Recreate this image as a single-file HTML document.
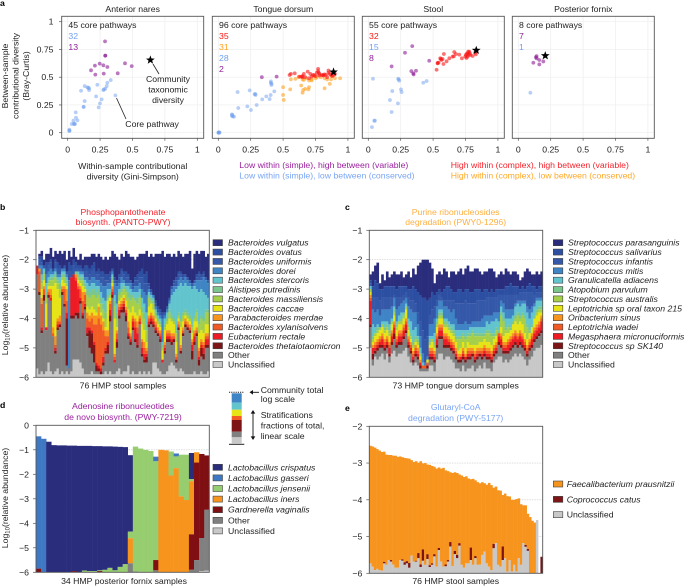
<!DOCTYPE html>
<html lang="en">
<head>
<meta charset="utf-8">
<title>Contributional diversity of core pathways</title>
<style>
html,body{margin:0;padding:0;background:#fff;}
svg{display:block;font-family:"Liberation Sans",Arial,sans-serif;font-size:8.7px;fill:#222;}
.it{font-style:italic;}
.ttl{text-anchor:middle;}
.pl{font-weight:bold;font-size:8.7px;fill:#000;}
</style>
</head>
<body>
<svg id="fig" xmlns="http://www.w3.org/2000/svg" width="685" height="586" viewBox="0 0 685 586">
  <text class="pl" x="0" y="6">a</text>
  <text class="pl" x="0" y="210">b</text>
  <text class="pl" x="345" y="210">c</text>
  <text class="pl" x="0" y="408">d</text>
  <text class="pl" x="345" y="411">e</text>

  <text class="ttl" x="132.7" y="12">Anterior nares</text>
  <text class="ttl" x="283.3" y="12">Tongue dorsum</text>
  <text class="ttl" x="433.3" y="12">Stool</text>
  <text class="ttl" x="583.3" y="12">Posterior fornix</text>

  <g id="scatter-layer"></g>

  <g text-anchor="middle">
    <text transform="translate(8,76) rotate(-90)">Between-sample</text>
    <text transform="translate(18.5,76) rotate(-90)">contributional diversity</text>
    <text transform="translate(29,76) rotate(-90)">(Bray-Curtis)</text>
  </g>
  <text class="ttl" x="132.7" y="169">Within-sample contributional</text>
  <text class="ttl" x="132.7" y="179.5">diversity (Gini-Simpson)</text>

  <g class="ttl">
    <text x="168" y="82">Community</text>
    <text x="168" y="92.5">taxonomic</text>
    <text x="168" y="103">diversity</text>
  </g>
  <line x1="153" y1="64" x2="159" y2="74" stroke="#222" stroke-width="0.8"/>
  <text x="125.3" y="127">Core pathway</text>
  <line x1="116.5" y1="98" x2="126" y2="119" stroke="#222" stroke-width="0.8"/>

  <g>
    <text x="239.3" y="168" fill="#9a1f9e" style="fill:#9a1f9e">Low within (simple), high between (variable)</text>
    <text x="239.3" y="178.5" style="fill:#7aa5f5">Low within (simple), low between (conserved)</text>
    <text x="450.7" y="168" style="fill:#f5222a">High within (complex), high between (variable)</text>
    <text x="450.7" y="178.5" style="fill:#ffa826">High within (complex), low between (conserved)</text>
  </g>

  <g id="stack-layer"></g>

  <text class="ttl" x="123" y="215" style="fill:#f5222a">Phosphopantothenate</text>
  <text class="ttl" x="123" y="225" style="fill:#f5222a">biosynth. (PANTO-PWY)</text>
  <text class="ttl" x="455.7" y="215" style="fill:#ffb040">Purine ribonucleosides</text>
  <text class="ttl" x="455.7" y="225" style="fill:#ffb040">degradation (PWY0-1296)</text>
  <text class="ttl" x="123" y="409" style="fill:#9a1f9e">Adenosine ribonucleotides</text>
  <text class="ttl" x="123" y="420" style="fill:#9a1f9e">de novo biosynth. (PWY-7219)</text>
  <text class="ttl" x="455.7" y="410" style="fill:#7aa5f5">Glutaryl-CoA</text>
  <text class="ttl" x="455.7" y="421" style="fill:#7aa5f5">degradation (PWY-5177)</text>

  <text class="ttl" x="123" y="388.5">76 HMP stool samples</text>
  <text class="ttl" x="455.7" y="388.5">73 HMP tongue dorsum samples</text>
  <text class="ttl" x="124" y="584">34 HMP posterior fornix samples</text>
  <text class="ttl" x="455.7" y="584">76 HMP stool samples</text>

  <text transform="translate(8,305) rotate(-90)" text-anchor="middle">Log<tspan font-size="6" dy="1.5">10</tspan><tspan dy="-1.5">(relative abundance)</tspan></text>
  <text transform="translate(8,498) rotate(-90)" text-anchor="middle">Log<tspan font-size="6" dy="1.5">10</tspan><tspan dy="-1.5">(relative abundance)</tspan></text>

  <g>
    <rect x="231.7" y="393.3" width="10" height="9.4" fill="#3f84c5"/>
    <rect x="231.7" y="402.7" width="10" height="7" fill="#62c4cc"/>
    <rect x="231.7" y="409.7" width="10" height="6.3" fill="#e6e316"/>
    <rect x="231.7" y="416" width="10" height="4" fill="#f15a24"/>
    <rect x="231.7" y="420" width="10" height="11.7" fill="#7d1416"/>
    <rect x="231.7" y="431.7" width="10" height="5.6" fill="#808080"/>
    <rect x="231.7" y="437.3" width="10" height="6" fill="#c8c8c8"/>
    <line x1="229" y1="392.3" x2="244.3" y2="392.3" stroke="#222" stroke-width="1" stroke-dasharray="1.2 1"/>
    <line x1="229" y1="444.3" x2="244.3" y2="444.3" stroke="#222" stroke-width="1"/>
    <path d="M259 392.3H252" stroke="#111" stroke-width="0.9" fill="none"/>
    <path d="M249.5 392.3l3.5-2.3v4.6z" fill="#111"/>
    <path d="M253 412V438" stroke="#111" stroke-width="0.9" fill="none"/>
    <path d="M253 410l-2.3 3.6h4.6zM253 440l-2.3-3.6h4.6z" fill="#111"/>
    <text x="260.7" y="393">Community total</text>
    <text x="260.7" y="402">log scale</text>
    <text x="260.7" y="418">Stratifications</text>
    <text x="260.7" y="428.5">fractions of total,</text>
    <text x="260.7" y="439">linear scale</text>
  </g>
</svg>

<script>
/* ---------- Panel a: scatter data ---------- */
const scatterTicks = [0, 0.25, 0.5, 0.75, 1];
const scatterTickLabels = ['0', '0.25', '0.5', '0.75', '1'];

const anteriorBlueX = [.013,.013,.031,.049,.057,.044,.064,.062,.075,.123,.131,.103,.131,.152,.165,.159,.229,.219,.262,.249,.239,.275,.290,.301,.306,.332,.368,.123,.013,.05,.28,.165];
const anteriorBlueY = [.018,.027,.078,.078,.078,.108,.135,.183,.111,.231,.285,.378,.42,.408,.384,.405,.432,.327,.3,.264,.228,.384,.396,.42,.45,.474,.336,.234,.015,.08,.39,.40];
const anteriorPurpleX = [.288,.29,.29,.247,.21,.275,.306,.18,.213,.278,.386,.442,.494];
const anteriorPurpleY = [.823,.694,.694,.622,.604,.607,.592,.562,.523,.532,.535,.625,.60];

const tongueBlueX = [0,.003,.005,.105,.105,.113,.121,.149,.154,.224,.242,.252,.28,.288,.296,.339,.370,.396,.404,.406,.411,.432,.405,.01,.108,.285,.005,.41];
const tongueBlueY = [0,.003,.002,.165,.15,.147,.144,.366,.222,.237,.381,.204,.346,.34,.249,.3,.327,.303,.339,.462,.441,.372,.45,.002,.16,.35,0,.43];
const tonguePurpleX = [.336,.45];
const tonguePurpleY = [.5,.505];
const tongueOrangeX = [.5,.5,.505,.555,.56,.595,.64,.655,.65,.67,.7,.695,.66,.68,.7,.72,.75,.76,.82,.86,.87,.84,.79,.74,.62,.72,.9,.94,.875,.65,.82];
const tongueOrangeY = [.41,.34,.295,.39,.48,.485,.425,.385,.36,.395,.41,.39,.475,.49,.47,.48,.49,.5,.4,.44,.48,.48,.5,.51,.5,.47,.49,.49,.51,.48,.49];
const tongueRedX = [.55,.56,.59,.625,.64,.65,.66,.67,.69,.7,.72,.73,.74,.76,.77,.77,.78,.78,.8,.81,.82,.83,.84,.85,.86,.87,.88,.89,.75,.71,.775,.65,.85,.9,.81];
const tongueRedY = [.52,.53,.535,.505,.505,.51,.53,.5,.55,.49,.505,.52,.52,.54,.575,.555,.53,.515,.52,.52,.525,.52,.5,.54,.53,.52,.51,.52,.51,.53,.54,.5,.56,.53,.515];

const stoolBlueX = [.028,.046,.051,.18,.167,.229,.185,.036,.231,.239,.252,.257,.424,.45,.234];
const stoolBlueY = [.05,.108,.108,.186,.294,.264,.375,.486,.486,.468,.39,.366,.45,.465,.48];
const stoolPurpleX = [.339,.283,.18,.47,.332,.368,.347,.35];
const stoolPurpleY = [.78,.72,.597,.648,.555,.558,.534,.525];
const stoolRedX = [.527,.535,.542,.555,.565,.573,.583,.58,.604,.625,.66,.663,.676,.702,.722,.758,.766,.758,.766,.771,.779,.784,.805,.825,.748,.535,.56,.65,.774,.787,.83,.753];
const stoolRedY = [.567,.625,.631,.67,.655,.664,.709,.619,.643,.67,.688,.727,.709,.703,.67,.673,.685,.709,.715,.73,.73,.715,.691,.721,.685,.628,.664,.685,.70,.70,.706,.70];

const fornixPurpleX = [.141,.141,.162,.116,.162,.193,.136];
const fornixPurpleY = [.69,.67,.655,.63,.615,.642,.68];
const fornixBlueX = [.093];
const fornixBlueY = [.36];

const starX = [.638, .889, .833, .208];
const starY = [.655, .547, .742, .694];
const coreCountLabels = ['45 core pathways', '96 core pathways', '55 core pathways', '8 core pathways'];

/* ---------- Panel b: stack boundaries, tenths of a log10 unit below 0 ---------- */
const bTotal = [22,18,17,20,18,18,16,19,17,18,17,18,17,20,17,19,16,19,20,18,20,19,19,19,18,18,19,18,19,20,19,20,19,17,18,19,20,18,19,17,18,19,19,20,19,18,18,18,17,19,18,19,18,18,18,17,19,18,18,19,18,19,17,18,19,18,18,17,23,18,17,18,17,17,19,18];
const bVulgatus = [22,19,19,22,21,21,20,23,20,21,22,23,22,24,21,22,20,21,22,22,23,22,22,23,22,21,24,23,24,24,25,25,24,23,26,27,25,23,24,24,25,27,28,26,25,24,23,25,24,28,30,32,34,36,37,38,38,36,33,29,27,26,24,24,25,25,26,27,28,27,25,24,25,24,26,27];
const bOvatus = [22,20,21,22,23,22,21,24,21,23,23,23,22,24,24,24,22,23,23,23,24,24,24,25,24,23,25,25,26,26,27,27,26,23,27,28,26,24,25,26,26,27,29,27,27,26,26,28,28,29,31,32,35,37,38,39,38,36,33,29,28,27,25,25,26,25,26,27,28,27,26,25,26,25,26,27];
const bUniformis = [22,22,22,23,25,24,23,24,23,25,25,23,23,25,27,26,25,24,24,24,24,26,26,27,26,26,27,27,28,29,29,28,28,24,28,29,28,26,27,28,28,28,30,29,29,28,30,31,32,30,31,32,36,38,39,40,39,37,34,30,29,29,27,26,27,26,27,28,29,28,27,27,27,26,27,28];
const bDorei = [22,23,25,23,28,26,25,25,24,26,26,24,24,26,57,26,25,24,24,25,25,27,28,29,28,28,29,29,31,33,34,30,30,25,32,35,30,28,28,29,29,30,31,31,31,30,33,35,38,31,32,33,37,39,40,48,40,38,35,32,31,30,29,28,29,28,29,29,30,29,30,31,30,31,32,33];
const bStercoris = [22,23,27,24,31,27,26,26,25,27,28,25,25,27,57,26,25,24,25,26,26,28,30,31,30,30,31,30,33,35,38,32,31,26,34,38,31,30,29,30,31,32,32,33,33,32,36,38,42,32,33,34,38,40,41,49,42,40,37,39,40,44,38,40,38,37,38,39,42,39,37,41,39,40,37,37];
const bAlistipes = [22,23,28,25,33,28,27,27,26,28,30,26,26,28,57,26,25,25,26,27,27,29,32,33,32,32,33,32,35,37,40,33,32,27,36,40,32,31,30,31,33,34,33,34,35,33,38,40,44,33,34,35,39,41,42,50,43,41,38,40,41,45,39,41,39,38,39,40,43,40,38,42,40,41,38,38];
const bMassiliensis = [22,23,30,27,35,29,29,29,28,30,33,27,28,29,57,26,25,25,27,28,29,30,36,37,36,37,38,35,38,40,43,34,33,28,40,43,34,33,32,34,37,38,36,38,39,37,42,44,48,36,35,37,40,42,43,51,44,42,40,41,42,48,40,43,41,39,40,41,45,41,41,45,44,45,42,42];
const bCaccae = [22,23,33,29,43,30,30,43,46,40,39,29,29,30,57,26,25,25,28,29,31,31,38,39,38,39,39,36,39,41,44,44,34,29,52,44,35,34,33,36,41,45,39,40,41,39,47,48,50,39,38,39,41,43,44,54,48,44,44,45,45,52,41,49,43,40,41,42,47,44,43,50,47,48,45,45];
const bMerdae = [22,24,35,30,43,31,32,45,49,41,41,30,30,34,57,26,25,26,29,30,34,32,40,41,40,42,42,40,42,44,46,46,35,30,53,45,36,35,34,37,43,46,40,41,43,40,48,50,51,40,39,40,42,44,45,54,49,45,45,46,46,53,42,50,44,41,42,43,48,45,44,51,48,49,46,46];
const bXylanisolvens = [22,31,43,32,43,32,33,46,50,42,42,31,35,38,57,26,25,27,30,33,38,35,43,43,44,48,55,56,57,53,50,48,37,31,54,47,37,36,35,38,45,47,41,43,45,41,50,52,52,41,40,41,43,45,46,54,50,46,46,47,47,54,43,51,45,42,43,44,49,46,45,53,49,50,47,47];
const bRectale = [25,31,44,32,44,32,34,46,51,43,42,31,35,40,57,39,39,38,38,34,39,36,45,44,45,49,56,57,58,55,51,49,39,32,55,48,39,37,36,39,46,48,43,47,49,42,52,54,53,42,41,42,44,45,47,55,51,47,47,48,47,54,43,51,45,42,43,44,51,48,45,54,50,52,49,49];
const bThetaiotaomicron = [25,32,45,34,44,33,34,46,52,44,43,32,36,56,57,40,40,39,40,35,40,37,46,50,52,55,58,58,59,56,52,52,41,33,55,50,40,38,38,41,47,49,44,48,50,42,53,55,55,43,42,43,45,46,48,55,52,48,48,49,48,55,44,52,46,43,44,45,54,49,46,56,53,54,50,50];
const bOther = [57,59,58,59,58,55,58,59,58,57,59,58,59,58,59,58,54,54,54,55,57,59,59,59,58,59,59,59,59,59,58,59,58,59,59,58,57,59,58,58,56,59,58,59,59,58,59,58,59,58,59,55,55,57,58,59,59,58,56,55,56,57,58,57,58,59,59,59,59,58,59,59,58,59,59,58];
const bUnclassified = bTotal.map(function(){return 60;});
const bNames = ['Bacteroides vulgatus','Bacteroides ovatus','Bacteroides uniformis','Bacteroides dorei','Bacteroides stercoris','Alistipes putredinis','Bacteroides massiliensis','Bacteroides caccae','Parabacteroides merdae','Bacteroides xylanisolvens','Eubacterium rectale','Bacteroides thetaiotaomicron','Other','Unclassified'];

/* ---------- Panel c: stack boundaries, tenths of a log10 unit below 0 ---------- */
const cTotal = [25,24,22,21,28,25,27,24,26,25,24,25,25,24,26,25,24,26,23,25,22,21,20,20,20,21,23,28,25,24,25,23,24,26,24,24,25,24,23,25,23,22,24,24,23,23,24,25,24,24,23,23,24,26,25,24,25,23,24,25,24,24,25,27,26,24,23,24,25,25,24,25,24];
const cParasanguinis = [27,29,27,28,30,30,29,29,29,29,29,30,29,29,29,29,30,30,29,30,31,32,33,33,34,33,31,32,31,30,31,30,29,29,30,31,31,30,30,31,30,30,31,31,30,30,30,31,30,30,31,30,31,30,30,30,30,29,29,28,29,29,29,30,29,30,29,28,29,29,30,29,29];
const cSalivarius = [28,33,33,33,34,33,33,33,33,33,32,33,33,33,32,31,33,34,34,35,38,41,44,47,46,39,37,36,34,32,33,34,34,34,34,34,35,35,35,35,34,35,35,35,35,34,34,34,34,33,33,33,33,33,32,32,32,32,32,32,32,32,32,31,31,31,31,31,31,32,31,31,31];
const cInfantis = [29,37,38,37,39,37,37,37,37,36,33,37,36,35,34,33,36,37,38,38,42,46,52,55,53,42,42,40,36,34,34,36,36,37,38,37,40,42,42,42,41,42,42,41,41,41,41,40,39,39,39,39,38,38,38,34,35,37,37,37,37,35,34,34,34,34,36,37,36,35,33,33,33];
const cMitis = [29,42,43,42,43,41,41,41,42,40,36,41,39,38,38,35,40,41,44,43,46,50,55,56,54,46,46,45,40,37,37,40,40,41,42,42,44,44,44,44,44,44,43,43,43,43,43,43,43,41,42,41,41,40,41,36,38,40,40,40,39,36,35,36,35,35,38,40,38,36,34,34,34];
const cAdiacens = [30,46,45,43,43,42,43,42,44,41,37,42,41,40,38,36,42,45,48,46,47,52,56,56,54,47,47,48,41,38,38,41,41,42,43,44,46,46,46,45,46,45,45,44,45,45,45,45,45,44,44,45,45,43,44,38,40,43,42,43,41,39,38,39,38,39,42,44,42,39,37,36,36];
const cParvulum = [30,47,45,44,43,42,44,43,45,41,38,43,41,41,39,36,43,46,49,47,48,52,56,56,54,48,47,49,42,39,39,42,42,43,44,45,47,47,47,46,47,46,46,45,46,46,46,46,46,45,45,46,46,44,45,39,41,44,43,44,42,40,39,40,39,40,43,45,43,40,38,37,37];
const cAustralis = [31,48,46,45,44,43,45,44,46,42,39,44,42,42,40,37,44,47,50,48,49,53,56,56,54,49,48,50,43,40,40,43,43,44,45,46,48,51,50,48,50,48,49,49,49,49,48,48,47,48,48,49,47,46,41,43,46,45,45,44,42,41,42,41,42,45,47,45,42,40,39,38,38];
const cTaxon215 = [32,49,48,47,46,45,47,46,48,44,41,46,44,44,42,40,46,48,51,49,50,54,56,56,55,50,50,51,45,42,42,45,45,46,47,48,50,52,52,50,52,50,50,50,51,50,50,50,49,50,50,51,49,48,44,45,48,48,47,46,45,44,45,44,45,47,49,47,45,43,42,41,39];
const cSinus = [33,50,49,48,47,46,48,47,49,45,42,47,45,45,43,41,47,49,52,50,51,55,56,56,55,51,51,52,46,43,43,46,46,47,48,49,51,53,53,51,53,51,51,51,52,51,51,51,50,51,51,52,50,49,45,46,49,49,48,47,46,45,46,45,46,48,50,48,46,44,43,42,40];
const cWadei = [34,50,50,49,48,47,49,48,50,46,43,48,46,46,44,42,48,50,53,51,52,55,57,57,56,52,52,53,47,44,44,47,47,48,49,50,52,54,53,52,53,52,52,52,53,52,52,52,51,52,52,53,51,50,46,47,50,50,49,48,47,46,47,46,47,49,51,49,47,45,44,43,41];
const cMicronuciformis = [42,52,51,50,49,49,50,49,52,48,45,49,48,48,46,44,49,51,54,52,53,56,57,57,56,53,53,54,49,46,46,49,49,49,50,51,53,54,54,53,54,53,53,52,54,53,52,53,52,53,53,54,52,51,48,49,51,51,51,50,49,48,49,48,49,50,52,50,49,47,46,45,44];
const cSK140 = [43,54,52,51,50,50,51,50,53,49,47,50,49,49,47,45,50,52,55,53,54,57,57,57,57,54,54,55,50,47,47,50,50,50,51,52,54,55,55,54,55,54,54,53,55,54,53,54,53,54,54,55,53,52,49,50,52,52,52,51,50,49,50,49,50,51,53,51,50,48,47,46,45];
const cOther = [50,56,53,54,53,52,54,52,55,52,51,53,52,52,51,50,53,55,56,55,56,58,58,58,58,56,56,58,54,52,52,54,53,53,54,55,57,57,58,56,58,57,57,56,58,57,56,57,55,57,57,58,55,54,53,53,55,54,55,54,53,52,53,52,53,54,56,54,53,51,50,50,49];
const cUnclassified = cTotal.map(function(){return 60;});
const cNames = ['Streptococcus parasanguinis','Streptococcus salivarius','Streptococcus infantis','Streptococcus mitis','Granulicatella adiacens','Atopobium parvulum','Streptococcus australis','Leptotrichia sp oral taxon 215','Oribacterium sinus','Leptotrichia wadei','Megasphaera micronuciformis','Streptococcus sp SK140','Other','Unclassified'];

/* ---------- Panel d: stack boundaries, log10 relative abundance ---------- */
const dTotal = [-.45,-.55,-.67,-.81,-.82,-.82,-.83,-.83,-.84,-.84,-.84,-.85,-.85,-.86,-.86,-.87,-.88,-.89,-1.22,-.87,-.95,-1,-1.05,-1.28,-1,-1.02,-1.07,-1.15,-1.2,-1.2,-1.13,-1.1,-1.17,-1.23];
const dCrispatus = [-.45,-.55,-6,-6,-6,-6,-6,-5.95,-6,-5.93,-5.95,-5.95,-5.92,-5.9,-5.82,-5.92,-5.78,-5.67,-4.34,-.87,-.95,-1,-1.05,-1.28,-1,-1.02,-1.07,-1.15,-1.2,-1.2,-2.2,-1.1,-1.17,-1.23];
const dGasseri = [-5.85,-6,-6,-6,-6,-6,-6,-5.95,-6,-5.93,-5.95,-5.95,-5.92,-5.9,-5.82,-5.92,-5.78,-5.67,-4.34,-.87,-.95,-1,-1.05,-1.47,-1,-1.02,-1.07,-1.27,-1.2,-1.2,-2.2,-1.1,-1.17,-1.23];
const dJensenii = [-5.85,-6,-6,-6,-6,-6,-6,-5.95,-6,-6,-5.98,-6,-5.95,-6,-6,-6,-6,-6,-4.61,-5.97,-5.98,-6,-6,-5.5,-1,-1.02,-2.05,-1.75,-2.9,-3.05,-2.28,-1.1,-1.17,-1.23];
const dIners = [-5.85,-6,-6,-6,-6,-6,-6,-5.95,-6,-6,-5.98,-6,-5.95,-6,-6,-6,-6,-6,-5.63,-5.97,-5.98,-6,-6,-5.5,-6,-6,-6,-6,-6,-6,-4.45,-1.52,-1.17,-1.23];
const dVaginalis = [-6,-6,-6,-6,-6,-6,-6,-6,-6,-6,-5.98,-6,-6,-6,-6,-6,-6,-6,-5.63,-5.97,-5.98,-6,-6,-5.92,-6,-6,-6,-6,-6,-6,-5.9,-5.5,-4.6,-3.45];
const dOther = [-6,-6,-6,-6,-6,-6,-6,-6,-6,-6,-6,-6,-6,-6,-6,-6,-6,-6,-6,-6,-6,-6,-6,-6,-6,-6,-6,-6,-6,-6,-6,-6,-5.95,-5.93];
const dUnclassified = dTotal.map(function(){return -6;});
const dNames = ['Lactobacillus crispatus','Lactobacillus gasseri','Lactobacillus jensenii','Lactobacillus iners','Gardnerella vaginalis','Other','Unclassified'];

/* ---------- Panel e: stack boundaries, log10 relative abundance ---------- */
const eTotal = [-2.53,-2.55,-2.58,-2.62,-2.66,-2.70,-2.69,-2.77,-2.78,-2.78,-2.80,-2.80,-2.83,-2.82,-2.84,-2.86,-2.87,-2.88,-2.92,-2.97,-2.95,-2.99,-2.95,-3.01,-3.0,-3.04,-3.05,-3.08,-3.10,-3.15,-3.12,-3.15,-3.13,-3.20,-3.22,-3.25,-3.27,-3.25,-3.27,-3.31,-3.34,-3.38,-3.36,-3.42,-3.44,-3.43,-3.47,-3.52,-3.55,-3.52,-3.55,-3.59,-3.54,-3.60,-3.67,-3.64,-3.74,-3.75,-3.87,-3.83,-3.90,-3.91,-4.0,-4.0,-3.98,-3.96,-4.12,-4.15,-4.15,-4.38,-4.47,-4.57,-4.62,-4.55,-6,-5.55];
const ePrausnitzii = [-5.73,-5.82,-5.91,-5.88,-5.91,-5.93,-5.69,-5.77,-5.64,-5.64,-5.76,-5.85,-5.85,-5.64,-5.62,-5.70,-5.67,-5.72,-5.52,-5.68,-5.66,-5.45,-5.76,-5.35,-5.77,-5.48,-5.78,-5.73,-5.48,-5.82,-5.31,-5.68,-5.82,-5.76,-5.64,-5.15,-5.80,-5.39,-5.50,-5.18,-5.77,-5.85,-5.73,-5.73,-5.30,-5.77,-5.53,-5.77,-5.76,-5.50,-5.41,-5.73,-5.82,-5.91,-5.2,-5.18,-5.77,-5.82,-5.27,-5.59,-5.95,-5.64,-5.95,-5.77,-5.95,-5.59,-5.77,-5.18,-5.23,-5.34,-6,-6,-6,-4.55,-6,-5.55];
const eCatus = [-5.73,-5.82,-5.91,-5.88,-5.91,-5.93,-5.73,-5.77,-5.64,-5.68,-5.76,-5.85,-5.85,-5.64,-5.66,-5.77,-5.73,-5.85,-5.52,-5.68,-5.68,-5.59,-5.83,-5.66,-5.77,-5.61,-5.83,-5.77,-5.54,-5.82,-5.37,-5.68,-5.82,-5.81,-5.68,-5.27,-5.80,-5.48,-5.59,-5.25,-5.77,-5.85,-5.73,-5.73,-5.64,-5.77,-5.59,-5.77,-5.76,-5.50,-5.41,-5.73,-5.82,-5.91,-5.32,-5.18,-5.77,-5.82,-5.64,-5.59,-5.95,-5.64,-5.95,-5.77,-5.95,-5.59,-5.77,-5.18,-5.28,-5.39,-6,-6,-6,-4.55,-6,-6];
const eUnclassified = eTotal.map(function(){return -6;});
const eNames = ['Faecalibacterium prausnitzii','Coprococcus catus','Unclassified'];

/* ---------- Shared helpers ---------- */
const SVG_NS = 'http://www.w3.org/2000/svg';
function mk(tag, parent) {
  const el = document.createElementNS(SVG_NS, tag);
  parent.appendChild(el);
  return el;
}
function slug(s) {
  return s.toLowerCase().replace(/[^a-z0-9]+/g, '-');
}

/* ---------- Draw scatter panels ---------- */
const scatterLayer = document.getElementById('scatter-layer');
const COL = {blue: '#6f9ff0', purple: '#8e1e96', red: '#fa1414', orange: '#ffa020'};
const scatterPanels = [
  {name: 'anterior-nares', left: 61.7, series: [[COL.blue, anteriorBlueX, anteriorBlueY], [COL.purple, anteriorPurpleX, anteriorPurpleY]], counts: [[32, COL.blue], [13, COL.purple]]},
  {name: 'tongue-dorsum', left: 212.3, series: [[COL.blue, tongueBlueX, tongueBlueY], [COL.purple, tonguePurpleX, tonguePurpleY], [COL.orange, tongueOrangeX, tongueOrangeY], [COL.red, tongueRedX, tongueRedY]], counts: [[35, COL.red], [31, COL.orange], [28, COL.blue], [2, COL.purple]]},
  {name: 'stool', left: 362.3, series: [[COL.blue, stoolBlueX, stoolBlueY], [COL.purple, stoolPurpleX, stoolPurpleY], [COL.red, stoolRedX, stoolRedY]], counts: [[32, COL.red], [15, COL.blue], [8, COL.purple]]},
  {name: 'posterior-fornix', left: 512.3, series: [[COL.blue, fornixBlueX, fornixBlueY], [COL.purple, fornixPurpleX, fornixPurpleY]], counts: [[7, COL.purple], [1, COL.blue]]}
];
const scatterY = function (v) { return 132.7 - v * 111; };

scatterPanels.forEach(function (p, pi) {
  const scatterX = function (v) { return p.left + 6 + v * 129.6; };
  const g = mk('g', scatterLayer);
  
  

  scatterTicks.forEach(function (t, ti) {
    const vl = mk('line', g);
    
    
    vl.setAttribute('x1', scatterX(t)); vl.setAttribute('x2', scatterX(t));
    vl.setAttribute('y1', 16.3); vl.setAttribute('y2', 138.3);
    vl.setAttribute('stroke', '#eeeeee'); vl.setAttribute('stroke-width', 0.7);

    const hl = mk('line', g);
    
    
    hl.setAttribute('x1', p.left); hl.setAttribute('x2', p.left + 142);
    hl.setAttribute('y1', scatterY(t)); hl.setAttribute('y2', scatterY(t));
    hl.setAttribute('stroke', '#eeeeee'); hl.setAttribute('stroke-width', 0.7);

    const xt = mk('line', g);
    
    
    xt.setAttribute('x1', scatterX(t)); xt.setAttribute('x2', scatterX(t));
    xt.setAttribute('y1', 138.3); xt.setAttribute('y2', 140.8);
    xt.setAttribute('stroke', '#555'); xt.setAttribute('stroke-width', 0.7);

    const xl = mk('text', g);
    
    
    xl.setAttribute('x', scatterX(t)); xl.setAttribute('y', 152.5);
    xl.setAttribute('text-anchor', 'middle');
    xl.textContent = scatterTickLabels[ti];

    if (pi === 0) {
      const yt = mk('line', g);
      
      
      yt.setAttribute('x1', 59); yt.setAttribute('x2', 61.7);
      yt.setAttribute('y1', scatterY(t)); yt.setAttribute('y2', scatterY(t));
      yt.setAttribute('stroke', '#555'); yt.setAttribute('stroke-width', 0.7);

      const yl = mk('text', g);
      
      
      yl.setAttribute('x', 53.5); yl.setAttribute('y', scatterY(t) + 3);
      yl.setAttribute('text-anchor', 'end');
      yl.textContent = scatterTickLabels[ti];
    }
  });

  p.series.forEach(function (s) {
    s[1].forEach(function (xv, i) {
      const c = mk('circle', g);
      
      
      c.setAttribute('cx', scatterX(xv));
      c.setAttribute('cy', scatterY(s[2][i]));
      c.setAttribute('r', 1.9);
      c.setAttribute('fill', s[0]);
      c.setAttribute('fill-opacity', s[0] === COL.blue ? 0.5 : 0.6);
    });
  });

  const cx = scatterX(starX[pi]), cy = scatterY(starY[pi]);
  let pts = '';
  for (let k = 0; k < 10; k++) {
    const r = k % 2 === 0 ? 4.6 : 1.9;
    const a = -Math.PI / 2 + k * Math.PI / 5;
    pts += (cx + r * Math.cos(a)).toFixed(2) + ',' + (cy + r * Math.sin(a)).toFixed(2) + ' ';
  }
  const star = mk('polygon', g);
  
  
  star.setAttribute('points', pts);
  star.setAttribute('fill', '#000');

  const box = mk('rect', g);
  
  
  box.setAttribute('x', p.left); box.setAttribute('y', 16.3);
  box.setAttribute('width', 142); box.setAttribute('height', 122);
  box.setAttribute('fill', 'none'); box.setAttribute('stroke', '#555'); box.setAttribute('stroke-width', 0.9);

  const head = mk('text', g);
  
  
  head.setAttribute('x', p.left + 6.7); head.setAttribute('y', 28);
  head.textContent = coreCountLabels[pi];

  p.counts.forEach(function (ct, ci) {
    const t = mk('text', g);
    
    
    t.setAttribute('x', p.left + 6.7); t.setAttribute('y', 39 + ci * 11);
    t.setAttribute('style', 'fill:' + ct[1]);
    t.textContent = String(ct[0]);
  });
});

/* ---------- Draw stacked panels ---------- */
const stackLayer = document.getElementById('stack-layer');
const NAVY = '#2a2c7c', B2 = '#2d4fa2', B3 = '#3558a8', B4 = '#3f84c5', TEAL = '#62c4cc', GRN = '#7bc68c', OLV = '#a5cf4a', YEL = '#e6e316', ORG = '#f7941e', ORD = '#f15a24', RED = '#ed1c24', DRD = '#7d1416', GRY = '#808080', LGY = '#c8c8c8';
const fullPalette = [NAVY, B2, B3, B4, TEAL, GRN, OLV, YEL, ORG, ORD, RED, DRD, GRY, LGY];
const stackPanels = [
  {name: 'b', left: 36, right: 209.3, top: 230.3, bottom: 377.3, hi: -1, lo: -6, unit: -0.1, total: bTotal,
   series: [bVulgatus, bOvatus, bUniformis, bDorei, bStercoris, bAlistipes, bMassiliensis, bCaccae, bMerdae, bXylanisolvens, bRectale, bThetaiotaomicron, bOther, bUnclassified],
   colors: fullPalette, names: bNames, ticks: [-1, -2, -3, -4, -5, -6],
   swatchX: 213, textX: 228, legendY: 242.7, legendStep: 9.37},
  {name: 'c', left: 369.3, right: 542.7, top: 230.3, bottom: 377.3, hi: -1, lo: -6, unit: -0.1, total: cTotal,
   series: [cParasanguinis, cSalivarius, cInfantis, cMitis, cAdiacens, cParvulum, cAustralis, cTaxon215, cSinus, cWadei, cMicronuciformis, cSK140, cOther, cUnclassified],
   colors: fullPalette, names: cNames, ticks: [-1, -2, -3, -4, -5, -6],
   swatchX: 553.3, textX: 568, legendY: 242.7, legendStep: 9.37},
  {name: 'd', left: 36, right: 209.3, top: 425.3, bottom: 572.3, hi: 0, lo: -6, unit: 1, total: dTotal,
   series: [dCrispatus, dGasseri, dJensenii, dIners, dVaginalis, dOther, dUnclassified],
   colors: [NAVY, '#3f78c2', '#96cd6e', ORG, '#7f0f12', GRY, LGY], names: dNames, ticks: [0, -1, -2, -3, -4, -5, -6],
   swatchX: 213, textX: 228, legendY: 467.3, legendStep: 10.6},
  {name: 'e', left: 369.3, right: 542.7, top: 426.3, bottom: 573.3, hi: -2, lo: -6, unit: 1, total: eTotal,
   series: [ePrausnitzii, eCatus, eUnclassified],
   colors: [ORG, DRD, LGY], names: eNames, ticks: [-2, -3, -4, -5, -6],
   swatchX: 553.3, textX: 566.7, legendY: 484, legendStep: 15.35}
];

stackPanels.forEach(function (p) {
  const n = p.total.length;
  const colW = (p.right - p.left) / n;
  const xBar = function (i) { return p.left + i * colW; };
  const yAxis = function (v) { return p.top + (p.hi - v) * (p.bottom - p.top) / (p.hi - p.lo); };

  const g = mk('g', stackLayer);
  
  

  p.ticks.forEach(function (t) {
    const y = yAxis(t);
    if (t !== p.hi && t !== p.lo) {
      const gl = mk('line', g);
      
      
      gl.setAttribute('x1', p.left); gl.setAttribute('x2', p.right);
      gl.setAttribute('y1', y); gl.setAttribute('y2', y);
      gl.setAttribute('stroke', '#cccccc'); gl.setAttribute('stroke-width', 0.7);
      gl.setAttribute('stroke-dasharray', '1.5 1');
    }
    const tk = mk('line', g);
    
    
    tk.setAttribute('x1', p.left - 3); tk.setAttribute('x2', p.left);
    tk.setAttribute('y1', y); tk.setAttribute('y2', y);
    tk.setAttribute('stroke', '#555'); tk.setAttribute('stroke-width', 0.7);

    const lb = mk('text', g);
    
    
    lb.setAttribute('x', p.left - 7); lb.setAttribute('y', y + 3);
    lb.setAttribute('text-anchor', 'end');
    lb.textContent = t === 0 ? '0' : '\u2212' + Math.abs(t);
  });

  p.total.forEach(function (totalValue, i) {
    let prev = totalValue * p.unit;
    p.series.forEach(function (s, si) {
      const cur = s[i] * p.unit;
      if (cur < prev) {
        const r = mk('rect', g);
        
        
        r.setAttribute('x', xBar(i).toFixed(2));
        r.setAttribute('y', yAxis(prev).toFixed(2));
        r.setAttribute('width', (colW + 0.25).toFixed(2));
        r.setAttribute('height', (yAxis(cur) - yAxis(prev)).toFixed(2));
        r.setAttribute('fill', p.colors[si]);
        prev = cur;
      }
    });
  });

  const box = mk('rect', g);
  
  
  box.setAttribute('x', p.left); box.setAttribute('y', p.top);
  box.setAttribute('width', p.right - p.left); box.setAttribute('height', p.bottom - p.top);
  box.setAttribute('fill', 'none'); box.setAttribute('stroke', '#555'); box.setAttribute('stroke-width', 0.9);

  p.names.forEach(function (nm, li) {
    const y = p.legendY + li * p.legendStep;
    const sw = mk('rect', g);
    
    
    sw.setAttribute('x', p.swatchX); sw.setAttribute('y', y - 3);
    sw.setAttribute('width', 9.5); sw.setAttribute('height', 6);
    sw.setAttribute('fill', p.colors[li]);
    sw.setAttribute('stroke', '#444'); sw.setAttribute('stroke-width', 0.6);

    const tx = mk('text', g);
    
    
    tx.setAttribute('x', p.textX); tx.setAttribute('y', y + 3);
    if (nm !== 'Other' && nm !== 'Unclassified') {
      tx.setAttribute('class', 'it');
    }
    tx.textContent = nm;
  });
});
</script>
</body>
</html>
